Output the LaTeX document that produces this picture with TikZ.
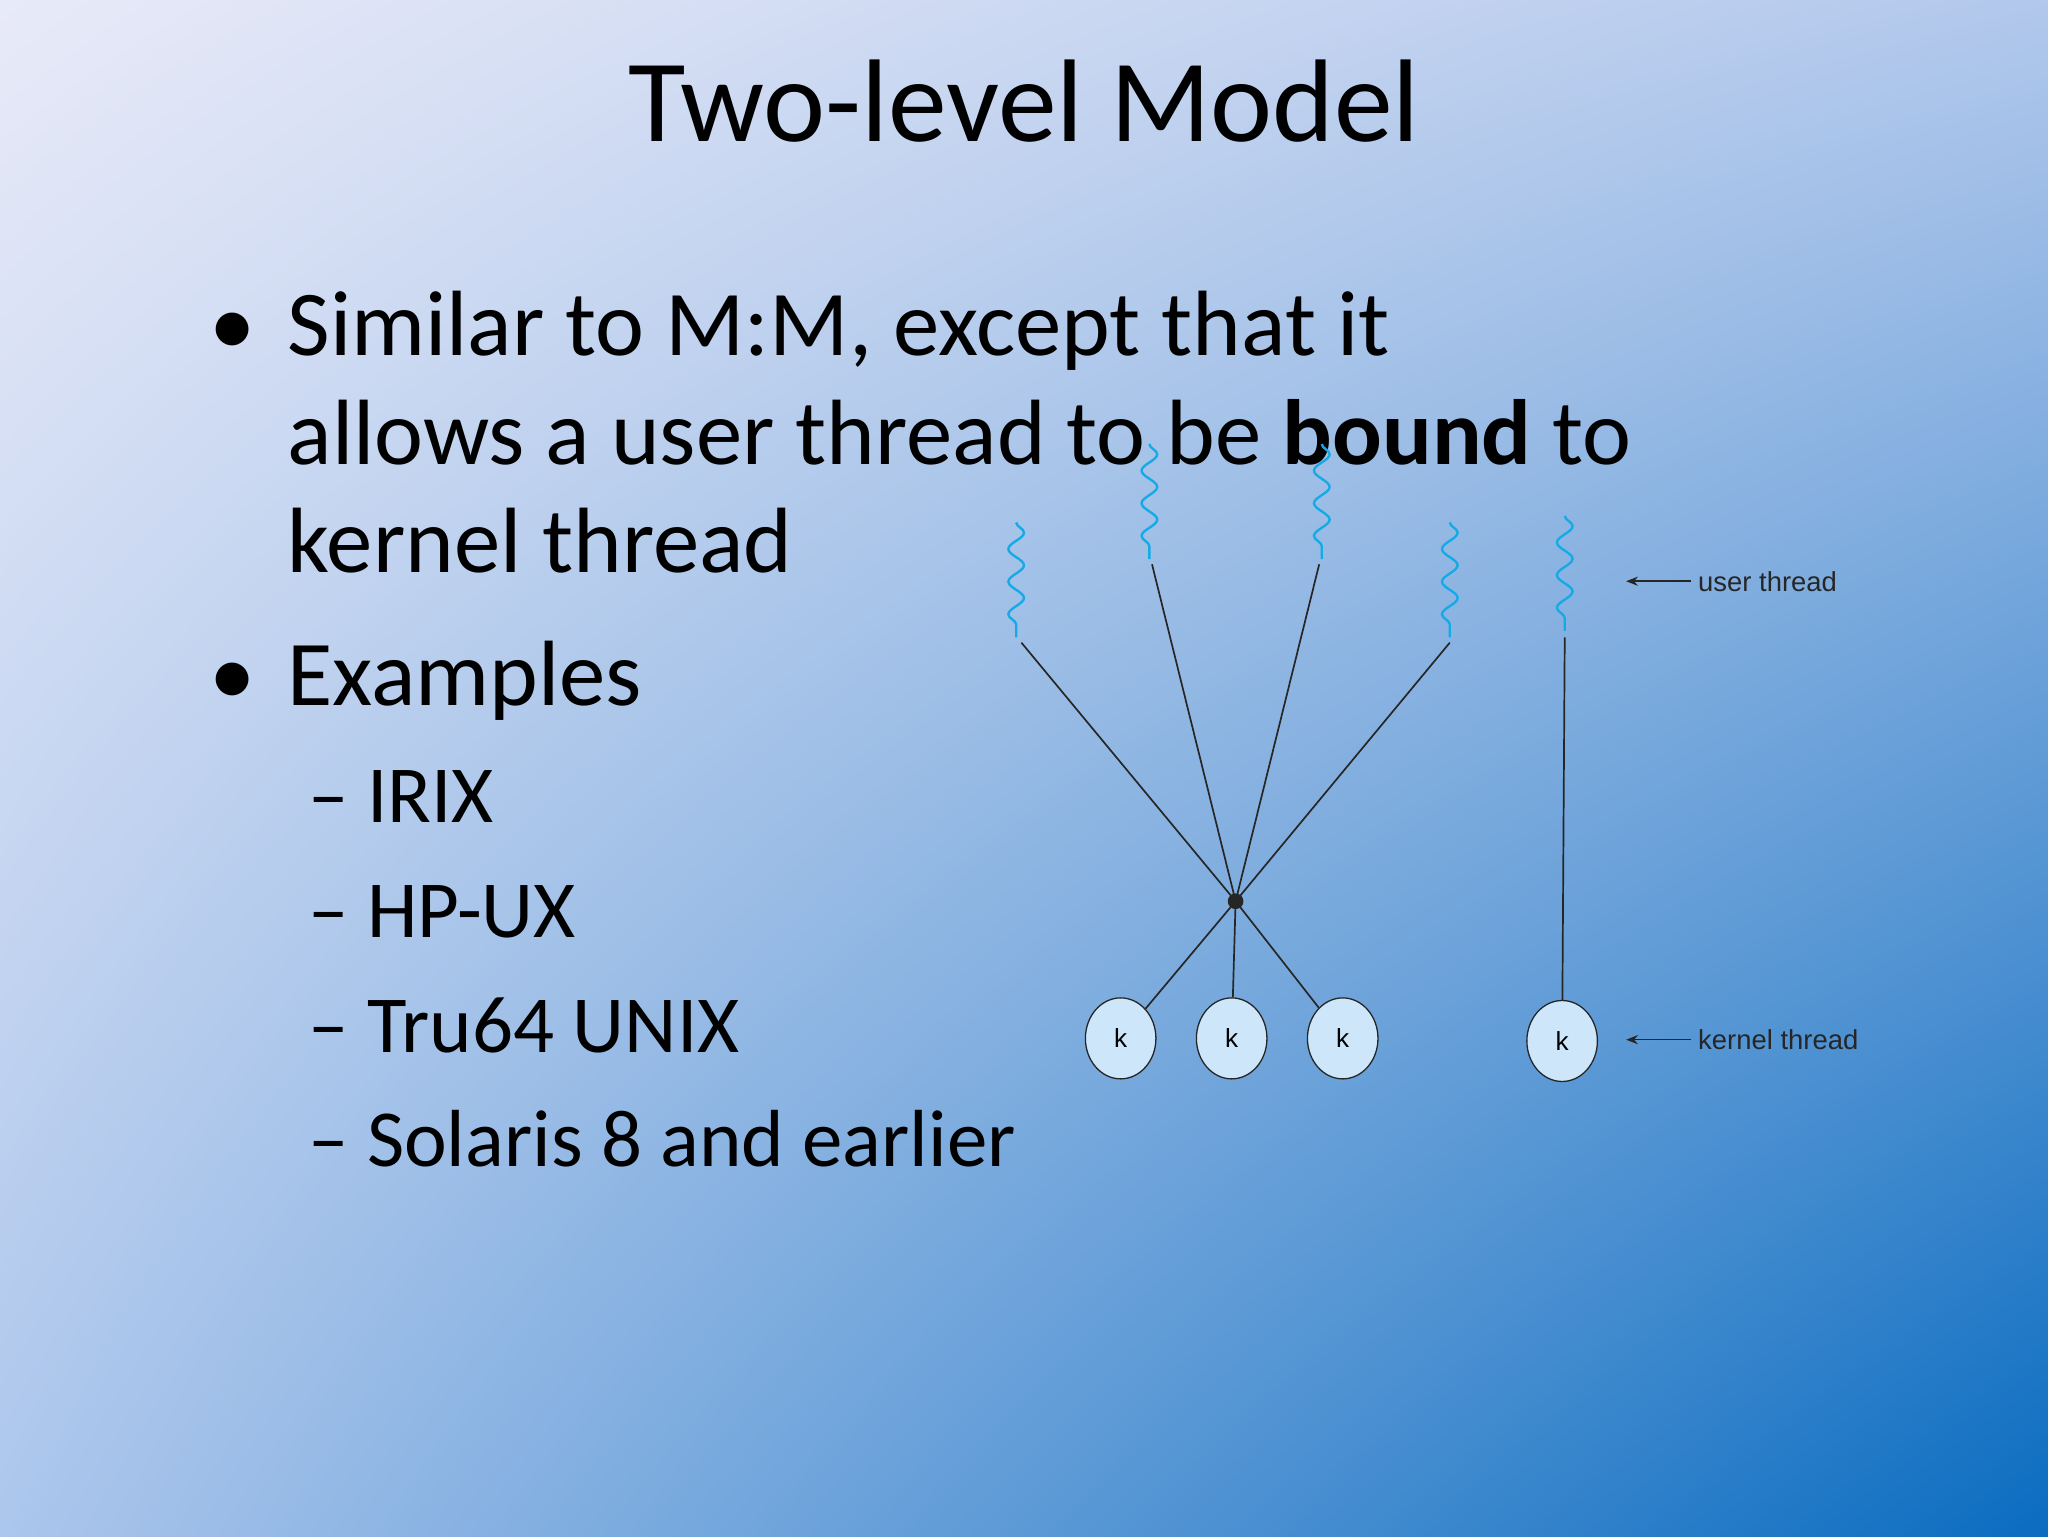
\documentclass[tikz,border=0pt]{standalone}
\usepackage{fontspec}
\setmainfont{Carlito}
\newfontfamily\arialf{Liberation Sans}
\usetikzlibrary{decorations.pathmorphing,arrows.meta,shapes.geometric,shadings}
\definecolor{wave}{RGB}{20,170,230}
\definecolor{kfill}{RGB}{205,230,250}
\definecolor{bgul}{RGB}{232,234,248}
\definecolor{bgur}{RGB}{178,200,236}
\definecolor{bgll}{RGB}{172,198,236}
\definecolor{bglr}{RGB}{10,108,192}
\tikzset{
  bodytxt/.style={anchor=base west,inner sep=0pt,font=\fontsize{71}{84}\selectfont},
  subtxt/.style={anchor=base west,inner sep=0pt,font=\fontsize{62}{74}\selectfont},
  wavy/.style={draw=wave,line width=1.8pt,decorate,decoration={snake,segment length=25,amplitude=6}},
  conn/.style={draw=black!85,line width=1.3pt},
  knode/.style={ellipse,draw=black!85,line width=1pt,fill=kfill,minimum width=54,minimum height=62,inner sep=0pt,font=\arialf\fontsize{20}{22}\selectfont},
  lab/.style={anchor=west,inner sep=0pt,font=\arialf\fontsize{21}{24}\selectfont,text=black!85},
  ptr/.style={draw=black!85,line width=1.2pt,-{Stealth[length=9,width=7]}}
}
\begin{document}
\begin{tikzpicture}[x=1pt,y=-1pt]
\useasboundingbox (0,0) rectangle (1568,1176);
\shade[upper left=bgul,upper right=bgur,lower left=bgll,lower right=bglr] (0,0) rectangle (1568,1176);
\node[anchor=base,inner sep=0pt,font=\fontsize{90}{100}\selectfont] (title) at (784,108) {Two-level Model};
\node[bodytxt] (b1) at (160,272) {•};
\node[bodytxt] (l1) at (220,272) {Similar to M:M, except that it};
\node[bodytxt] (l2) at (220,356) {allows a user thread to be \textbf{bound} to};
\node[bodytxt] (l3) at (220,438) {kernel thread};
\node[bodytxt] (b2) at (160,540) {•};
\node[bodytxt] (l4) at (220,540) {Examples};
\node[subtxt] (s1) at (236,630) {– IRIX};
\node[subtxt] (s2) at (236,718) {– HP-UX};
\node[subtxt] (s3) at (236,806) {– Tru64 UNIX};
\node[subtxt] (s4) at (236,893) {– Solaris 8 and earlier};
\coordinate (w1t) at (778,400); \coordinate (w1b) at (778,488);
\coordinate (w2t) at (880,340); \coordinate (w2b) at (880,428);
\coordinate (w3t) at (1012,340); \coordinate (w3b) at (1012,428);
\coordinate (w4t) at (1110,400); \coordinate (w4b) at (1110,488);
\coordinate (w5t) at (1198,395); \coordinate (w5b) at (1198,483);
\foreach \i in {1,...,5} \path[wavy] (w\i t) -- (w\i b);
\coordinate (hub) at (946,690);
\node[knode] (k1) at (858,795) {k};
\node[knode] (k2) at (943,795) {k};
\node[knode] (k3) at (1028,795) {k};
\node[knode] (k4) at (1196,797) {k};
\coordinate (e1) at (782,492); \coordinate (e2) at (882,432);
\coordinate (e3) at (1010,432); \coordinate (e4) at (1110,492);
\coordinate (e5) at (1198,488);
\path[conn] (e1) -- (hub);
\path[conn] (e2) -- (hub);
\path[conn] (e3) -- (hub);
\path[conn] (e4) -- (hub);
\path[conn] (hub) -- (k1);
\path[conn] (hub) -- (k2);
\path[conn] (hub) -- (k3);
\path[conn] (e5) -- (k4);
\fill[black!85] (hub) circle (6);
\node[lab] (ut) at (1300,445) {user thread};
\node[lab] (kt) at (1300,796) {kernel thread};
\path[ptr] (ut.west) ++(-5,0) -- ++(-50,0);
\path[ptr] (kt.west) ++(-5,0) -- ++(-50,0);
\end{tikzpicture}
\end{document}
